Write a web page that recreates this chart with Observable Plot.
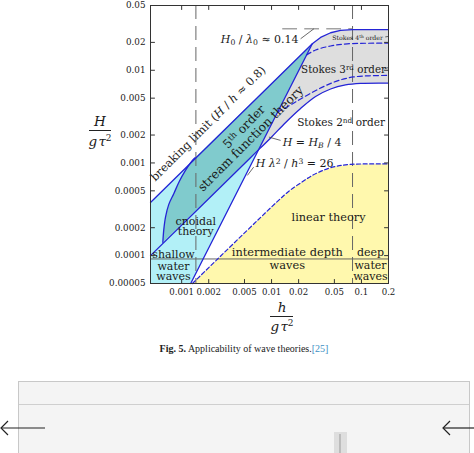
<!DOCTYPE html>
<html><head><meta charset="utf-8">
<script src="https://cdn.jsdelivr.net/npm/d3@7"></script>
<script src="https://cdn.jsdelivr.net/npm/@observablehq/plot@0.6"></script>
<style>
body{margin:0;background:#fff;width:474px;height:453px;overflow:hidden;position:relative;font-family:"DejaVu Serif",serif;color:#1a1a1a;}
#chart{position:absolute;left:0;top:0;}
.ab{position:absolute;}
.frac{font-family:"DejaVu Serif",serif;font-style:italic;font-size:13.5px;text-align:center;line-height:14px;}
.frac sup{font-size:9px;font-style:normal;line-height:0;}
.fline{position:absolute;border-top:1px solid #222;height:0;}
#cap{position:absolute;left:0;width:488px;top:343px;text-align:center;font-family:"Liberation Serif",serif;font-size:10px;color:#222;}
#box{position:absolute;left:18px;top:381px;width:450px;height:90px;background:#f4f4f4;border:1px solid #c8c8c8;}
#boxline{position:absolute;left:0;top:22px;width:450px;border-top:1px solid #cfcfcf;}
</style></head><body>
<div id="chart"></div>

<div class="ab frac" style="left:88px;top:114px;width:24px;">H</div>
<div class="fline" style="left:89px;top:130px;width:22px;"></div>
<div class="ab frac" style="left:86px;top:134px;width:28px;">g&#8202;τ<sup>2</sup></div>

<div class="ab frac" style="left:270px;top:300px;width:24px;">h</div>
<div class="fline" style="left:270px;top:316px;width:23px;"></div>
<div class="ab frac" style="left:267px;top:319px;width:30px;">g&#8202;τ<sup>2</sup></div>

<div id="cap"><b>Fig. 5.</b> Applicability of wave theories.<span style="color:#3d8fc4">[25]</span></div>
<div id="box"><div id="boxline"></div></div>
<svg class="ab" style="left:0;top:0" width="474" height="453">
  <g stroke="#222" stroke-width="1.2" fill="none">
    <line x1="1" y1="428" x2="45" y2="428"/><polyline points="8,421 1,428 8,435"/>
    <line x1="443" y1="428" x2="474" y2="428"/><polyline points="450,421 443,428 450,435"/>
  </g>
  <rect x="334" y="432" width="13" height="21" fill="#dedede"/>
  <line x1="340" y1="434" x2="340" y2="453" stroke="#999" stroke-width="1"/>
</svg>

<script>
// ---- axes ----
const xDomain = [0.00045, 0.2];
const yDomain = [0.00005, 0.05];
const xTicks = [0.001, 0.002, 0.005, 0.01, 0.02, 0.05, 0.1, 0.2];
const yTicks = [0.00005, 0.0001, 0.0002, 0.0005, 0.001, 0.002, 0.005, 0.01, 0.02, 0.05];

// ---- curves (h/gτ², H/gτ²) ----
const breakH = [0.00045, 0.0284, 0.0351, 0.0454, 0.0586, 0.0796, 0.2];
const breakV = [0.000375, 0.0193, 0.0226, 0.0254, 0.0269, 0.0274, 0.0274];
const hb4H = [0.00045, 0.00586, 0.00977, 0.01435, 0.02104, 0.0309, 0.0454, 0.0665, 0.0977, 0.2];
const hb4V = [0.0001, 0.001146, 0.001862, 0.002735, 0.00387, 0.00521, 0.00628, 0.00694, 0.00721, 0.00726];
const ursellH = [0.00126, 0.0284];
const ursellV = [0.00005, 0.0193];
const cnoidH = [0.000617, 0.000633, 0.000661, 0.000719, 0.000817, 0.00094, 0.001102, 0.00126, 0.001397];
const cnoidV = [0.000139, 0.000192, 0.00026, 0.000357, 0.000466, 0.000631, 0.00083, 0.00101, 0.00113];
const stokes4H = [0.02455, 0.0309, 0.0454, 0.0695, 0.2];
const stokes4V = [0.01462, 0.01656, 0.01828, 0.0193, 0.0196];
const stokes3H = [0.0117, 0.01774, 0.02958, 0.0493, 0.0817, 0.2];
const stokes3V = [0.00354, 0.00444, 0.0059, 0.00744, 0.00847, 0.00879];
const linearH = [0.001318, 0.01262, 0.0163, 0.02104, 0.02718, 0.0351, 0.049, 0.0757, 0.2];
const linearV = [0.00005, 0.000414, 0.000512, 0.000608, 0.000715, 0.00081, 0.000906, 0.000964, 0.000975];
const depthLimits = [0.00144, 0.0796];
const depthLabelLine = [0.000092];
const steepH = [0.01328, 0.0796];
const steepV = [0.028, 0.028];

// ---- annotations ----
const labels = [
  {t: "linear theory", x: 0.0431, y: 0.00026, s: 11.3, r: 0},
  {t: "cnoidal", x: 0.001435, y: 0.000234, s: 11, r: 0},
  {t: "theory", x: 0.001435, y: 0.00018, s: 11, r: 0},
  {t: "shallow", x: 0.000811, y: 0.000103, s: 11, r: 0},
  {t: "water", x: 0.000811, y: 0.0000764, s: 11, r: 0},
  {t: "waves", x: 0.000811, y: 0.0000601, s: 11, r: 0},
  {t: "intermediate depth", x: 0.01498, y: 0.000109, s: 11.4, r: 0},
  {t: "waves", x: 0.01498, y: 0.0000784, s: 11.4, r: 0},
  {t: "deep", x: 0.1262, y: 0.000109, s: 11, r: 0},
  {t: "water", x: 0.1262, y: 0.0000784, s: 11, r: 0},
  {t: "waves", x: 0.1262, y: 0.0000597, s: 11, r: 0},
  {t: "Stokes 2^{nd} order", x: 0.0593, y: 0.00275, s: 10.5, r: 0},
  {t: "Stokes 3^{rd} order", x: 0.0632, y: 0.01012, s: 10.3, r: 0},
  {t: "Stokes 4^{th} order", x: 0.0906, y: 0.02243, s: 6.2, r: 0},
  {t: "breaking limit (*H* / *h* ≈ 0.8)", x: 0.00197, y: 0.00265, s: 11.4, r: -45},
  {t: "5^{th} order", x: 0.00495, y: 0.00245, s: 12.2, r: -46},
  {t: "stream function theory", x: 0.00586, y: 0.001824, s: 12.3, r: -45}
];
const labelsEnd = [
  {t: "*H*_{0} / *λ*_{0} ≈ 0.14", x: 0.02, y: 0.02133, s: 11}
];
const labelsStart = [
  {t: "*H* = *H*_{*B*} / 4", x: 0.01328, y: 0.001677, s: 11},
  {t: "*H λ*^{2} / *h*^{3} = 26", x: 0.00665, y: 0.00098, s: 11}
];
const leaders = [
  {x1: 0.02104, y1: 0.02187, x2: 0.0296, y2: 0.02805},
  {x1: 0.01262, y1: 0.00175, x2: 0.00935, y2: 0.0019},
  {x1: 0.00632, y1: 0.000901, x2: 0.00538, y2: 0.000733},
  {x1: 0.184, y1: 0.0229, x2: 0.2, y2: 0.0232},
  {x1: 0.181, y1: 0.0104, x2: 0.2, y2: 0.0107}
];

// ---- helpers ----
const pts = (H, V) => H.map((h, i) => ({x: h, y: V[i]}));
const L = p => [Math.log10(p.x), Math.log10(p.y)];
function intersect(a, b) { // polylines, log space
  for (let i = 0; i < a.length - 1; i++) for (let j = 0; j < b.length - 1; j++) {
    const [p1, p2, p3, p4] = [L(a[i]), L(a[i+1]), L(b[j]), L(b[j+1])];
    const d = (p2[0]-p1[0])*(p4[1]-p3[1]) - (p2[1]-p1[1])*(p4[0]-p3[0]);
    if (!d) continue;
    const t = ((p3[0]-p1[0])*(p4[1]-p3[1]) - (p3[1]-p1[1])*(p4[0]-p3[0])) / d;
    const u = ((p3[0]-p1[0])*(p2[1]-p1[1]) - (p3[1]-p1[1])*(p2[0]-p1[0])) / d;
    if (t >= 0 && t <= 1 && u >= 0 && u <= 1)
      return {x: 10 ** (p1[0] + t*(p2[0]-p1[0])), y: 10 ** (p1[1] + t*(p2[1]-p1[1]))};
  }
}
const breaking = pts(breakH, breakV);
const hb4 = pts(hb4H, hb4V);
const ursell = pts(ursellH, ursellV);
const cnoid = pts(cnoidH, cnoidV);
const stokes4 = pts(stokes4H, stokes4V);
const stokes3 = pts(stokes3H, stokes3V);
const linear = pts(linearH, linearV);
const junction = breaking[1];
const cross = intersect(ursell, hb4);

const polyCyan = [{x: xDomain[0], y: yDomain[0]}, breaking[0], junction, ursell[0]];
const polyTeal = [...cnoid, junction, cross];
const polyGrey = [cross, junction, ...breaking.slice(2), {x: xDomain[1], y: hb4V[hb4V.length-1]},
  ...hb4.filter(p => p.x > cross.x).reverse()];
const polyYellow = [...linear, {x: xDomain[1], y: yDomain[0]}];

const BLUE = "#2424d6";
const fmt = d => String(d);
const txt = "#1a1a1a";
const AX = "#333";
// simple tick shape for inward frame ticks
const tickShape = {draw(ctx, l) { ctx.moveTo(0, 0); ctx.lineTo(0, -l); }};
const tk = {length: 4, anchor: "start", shape: tickShape, stroke: AX, strokeWidth: 1};

const plot = Plot.plot({
  width: 474, height: 340,
  marginLeft: 150, marginRight: 86, marginTop: 5, marginBottom: 57,
  x: {type: "log", domain: xDomain},
  y: {type: "log", domain: yDomain},
  axis: null,
  style: {fontFamily: "DejaVu Serif", fontSize: "9px", color: "#222", background: "transparent", overflow: "visible"},
  marks: [
    Plot.line(polyCyan, {x: "x", y: "y", fill: "#b2f0f7", stroke: "none"}),
    Plot.line(polyTeal, {x: "x", y: "y", fill: "#80cbcd", stroke: "none"}),
    Plot.line(polyGrey, {x: "x", y: "y", fill: "#dedede", stroke: "none"}),
    Plot.line(polyYellow, {x: "x", y: "y", fill: "#fff8ad", stroke: "none"}),
    Plot.ruleY(depthLabelLine, {stroke: "#555", strokeWidth: 0.9}),
    Plot.ruleX(depthLimits, {stroke: "#666", strokeWidth: 1, strokeDasharray: "14,7"}),
    Plot.line(pts(steepH, steepV), {x: "x", y: "y", stroke: "#777", strokeWidth: 1, strokeDasharray: "14,8"}),
    Plot.line(linear, {x: "x", y: "y", stroke: BLUE, strokeWidth: 1.2, strokeDasharray: "4,2.5", curve: "catmull-rom"}),
    Plot.line(stokes4, {x: "x", y: "y", stroke: BLUE, strokeWidth: 1.2, strokeDasharray: "5,3", curve: "catmull-rom"}),
    Plot.line(stokes3, {x: "x", y: "y", stroke: BLUE, strokeWidth: 1.2, strokeDasharray: "5,3", curve: "catmull-rom"}),
    Plot.line(hb4, {x: "x", y: "y", stroke: BLUE, strokeWidth: 1.3, curve: "catmull-rom"}),
    Plot.line(cnoid, {x: "x", y: "y", stroke: BLUE, strokeWidth: 1.3, curve: "catmull-rom"}),
    Plot.line(ursell, {x: "x", y: "y", stroke: BLUE, strokeWidth: 1.3}),
    Plot.line(breaking, {x: "x", y: "y", stroke: BLUE, strokeWidth: 1.3}),
    Plot.link(leaders, {x1: "x1", y1: "y1", x2: "x2", y2: "y2", stroke: "#444", strokeWidth: 0.8}),
    Plot.text(labels, {x: "x", y: "y", text: "t", fontSize: "s", rotate: "r", textAnchor: "middle", fill: txt, fontFamily: "DejaVu Serif"}),
    Plot.text(labelsEnd, {x: "x", y: "y", text: "t", fontSize: "s", textAnchor: "end", fill: txt, fontFamily: "DejaVu Serif"}),
    Plot.text(labelsStart, {x: "x", y: "y", text: "t", fontSize: "s", textAnchor: "start", fill: txt, fontFamily: "DejaVu Serif"}),
    Plot.frame({stroke: AX, strokeWidth: 1}),
    // tick labels
    Plot.text(xTicks, {x: d => d, frameAnchor: "bottom", text: fmt, dy: 9, fontSize: 8.6, fill: txt, lineAnchor: "middle"}),
    Plot.text(yTicks, {y: d => d, frameAnchor: "left", text: fmt, dx: -5, textAnchor: "end", fontSize: 8.8, fill: txt}),
    // inward ticks on the four sides of the frame
    Plot.vector(xTicks, {x: d => d, frameAnchor: "bottom", rotate: 0, ...tk}),
    Plot.vector(xTicks, {x: d => d, frameAnchor: "top", rotate: 180, ...tk}),
    Plot.vector(yTicks, {y: d => d, frameAnchor: "left", rotate: 90, ...tk}),
    Plot.vector(yTicks, {y: d => d, frameAnchor: "right", rotate: 270, ...tk})
  ]
});
document.getElementById("chart").appendChild(plot);

// rich text: *italic*, ^{sup}, _{sub}
const NS = "http://www.w3.org/2000/svg";
function addRich(parent, str) {
  const re = /(\^\{[^}]*\}|_\{[^}]*\}|\*[^*]*\*)/g;
  let last = 0, m;
  while ((m = re.exec(str))) {
    if (m.index > last) parent.appendChild(document.createTextNode(str.slice(last, m.index)));
    const tok = m[0];
    const ts = document.createElementNS(NS, "tspan");
    if (tok[0] === "*") { ts.setAttribute("font-style", "italic"); ts.textContent = tok.slice(1, -1); }
    else {
      ts.style.fontSize = "0.7em";
      ts.setAttribute("baseline-shift", tok[0] === "^" ? "38%" : "-22%");
      addRich(ts, tok.slice(2, -1));
    }
    parent.appendChild(ts);
    last = re.lastIndex;
  }
  if (last < str.length) parent.appendChild(document.createTextNode(str.slice(last)));
}
plot.querySelectorAll("text").forEach(el => {
  const s = el.textContent;
  if (/\*|\^\{|_\{/.test(s) && el.children.length === 0) { el.textContent = ""; addRich(el, s); }
});
</script>
</body></html>
